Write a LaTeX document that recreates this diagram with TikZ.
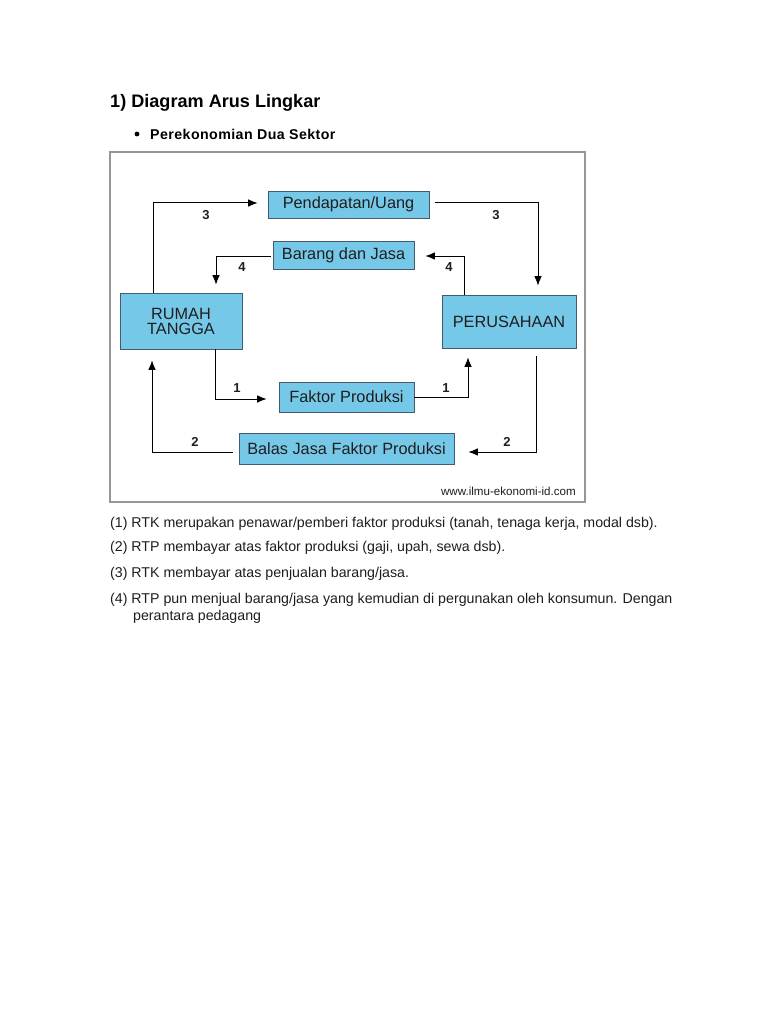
\documentclass[tikz,border=0pt]{standalone}
\usepackage{fontspec}
\setmainfont{Liberation Sans}
\usetikzlibrary{arrows.meta}
\definecolor{boxblue}{RGB}{118,200,232}
\definecolor{boxline}{RGB}{70,90,110}
\definecolor{framegray}{RGB}{150,150,150}
\definecolor{txt}{RGB}{30,30,30}
\begin{document}
\begin{tikzpicture}[x=1pt,y=-1pt,
  bx/.style={draw=boxline,line width=0.6pt,fill=boxblue,inner sep=0pt,align=center,font=\fontsize{16.3}{15}\selectfont,text=txt},
  arr/.style={line width=1pt,-{Latex[length=9.5pt,width=7.5pt]}},
  num/.style={font=\bfseries\fontsize{13}{14}\selectfont,text=txt},
  para/.style={anchor=west,inner sep=0pt,font=\fontsize{14.2}{16}\selectfont,text=txt}]
\useasboundingbox (0,0) rectangle (768,1024);
\fill[white] (0,0) rectangle (768,1024);
% headings
\node[anchor=west,inner sep=0pt,font=\bfseries\fontsize{18.1}{20}\selectfont] (title) at (110,103) {1) Diagram Arus Lingkar};
\fill (137,134) circle (2.4);
\node[anchor=west,inner sep=0pt,font=\bfseries\fontsize{14.2}{16}\selectfont] (sub) at (150,134) {\addfontfeature{LetterSpace=3}Perekonomian Dua Sektor};
% frame
\draw[framegray,line width=1.4pt] (110,152) rectangle (585,502);
% boxes
\node[bx,minimum width=161,minimum height=27] (pend) at (348.5,204.5) {Pendapatan/Uang};
\node[bx,minimum width=141,minimum height=28] (barang) at (343.5,255) {Barang dan Jasa};
\node[bx,minimum width=122,minimum height=56] (rumah) at (181,321) {RUMAH\\TANGGA};
\node[bx,minimum width=134,minimum height=53] (perus) at (509,321.5) {PERUSAHAAN};
\node[bx,minimum width=135,minimum height=30] (faktor) at (346.5,397) {Faktor Produksi};
\node[bx,minimum width=215,minimum height=31] (balas) at (346.5,448.5) {Balas Jasa Faktor Produksi};
% connectors
\draw[arr] ([xshift=-28pt]rumah.north) |- ([xshift=-10pt,yshift=1.5pt]pend.west);
\draw[arr] ([xshift=6pt,yshift=1.5pt]pend.east) -| ([xshift=29pt,yshift=9pt]perus.north);
\draw[arr] ([xshift=-2pt,yshift=-1pt]barang.west) -| ([xshift=35pt,yshift=8pt]rumah.north);
\draw[arr] ([xshift=-45pt]perus.north) |- ([xshift=11pt,yshift=-1pt]barang.east);
\draw[arr] ([xshift=34pt]rumah.south) |- ([xshift=-12pt,yshift=-2pt]faktor.west);
\draw[arr] (faktor.east) -| ([xshift=-41pt,yshift=-9pt]perus.south);
\draw[arr] ([xshift=27pt,yshift=-8pt]perus.south) |- ([xshift=14pt,yshift=-3.5pt]balas.east);
\draw[arr] ([xshift=-6pt,yshift=-3.5pt]balas.west) -| ([xshift=-29pt,yshift=-11pt]rumah.south);
% numbers
\node[num] (n3a) at (206,215) {3};
\node[num] (n3b) at (496,215) {3};
\node[num] (n4a) at (242,267) {4};
\node[num] (n4b) at (449,267) {4};
\node[num] (n1a) at (237,388) {1};
\node[num] (n1b) at (446,388) {1};
\node[num] (n2a) at (195,442) {2};
\node[num] (n2b) at (507,442) {2};
\node[anchor=east,inner sep=0pt,font=\fontsize{11.6}{12}\selectfont,text=txt] (web) at (576,491) {www.ilmu-ekonomi-id.com};
% text
\node[para] (p1) at (110,524) {(1) RTK merupakan penawar/pemberi faktor produksi (tanah, tenaga kerja, modal dsb).};
\node[para] (p2) at (110,548) {(2) RTP membayar atas faktor produksi (gaji, upah, sewa dsb).};
\node[para] (p3) at (110,574) {(3) RTK membayar atas penjualan barang/jasa.};
\node[para] (p4) at (110,600) {(4) RTP pun menjual barang/jasa yang kemudian di pergunakan oleh konsumun. Dengan};
\node[para] (p5) at (133,617) {perantara pedagang};
\end{tikzpicture}
\end{document}
